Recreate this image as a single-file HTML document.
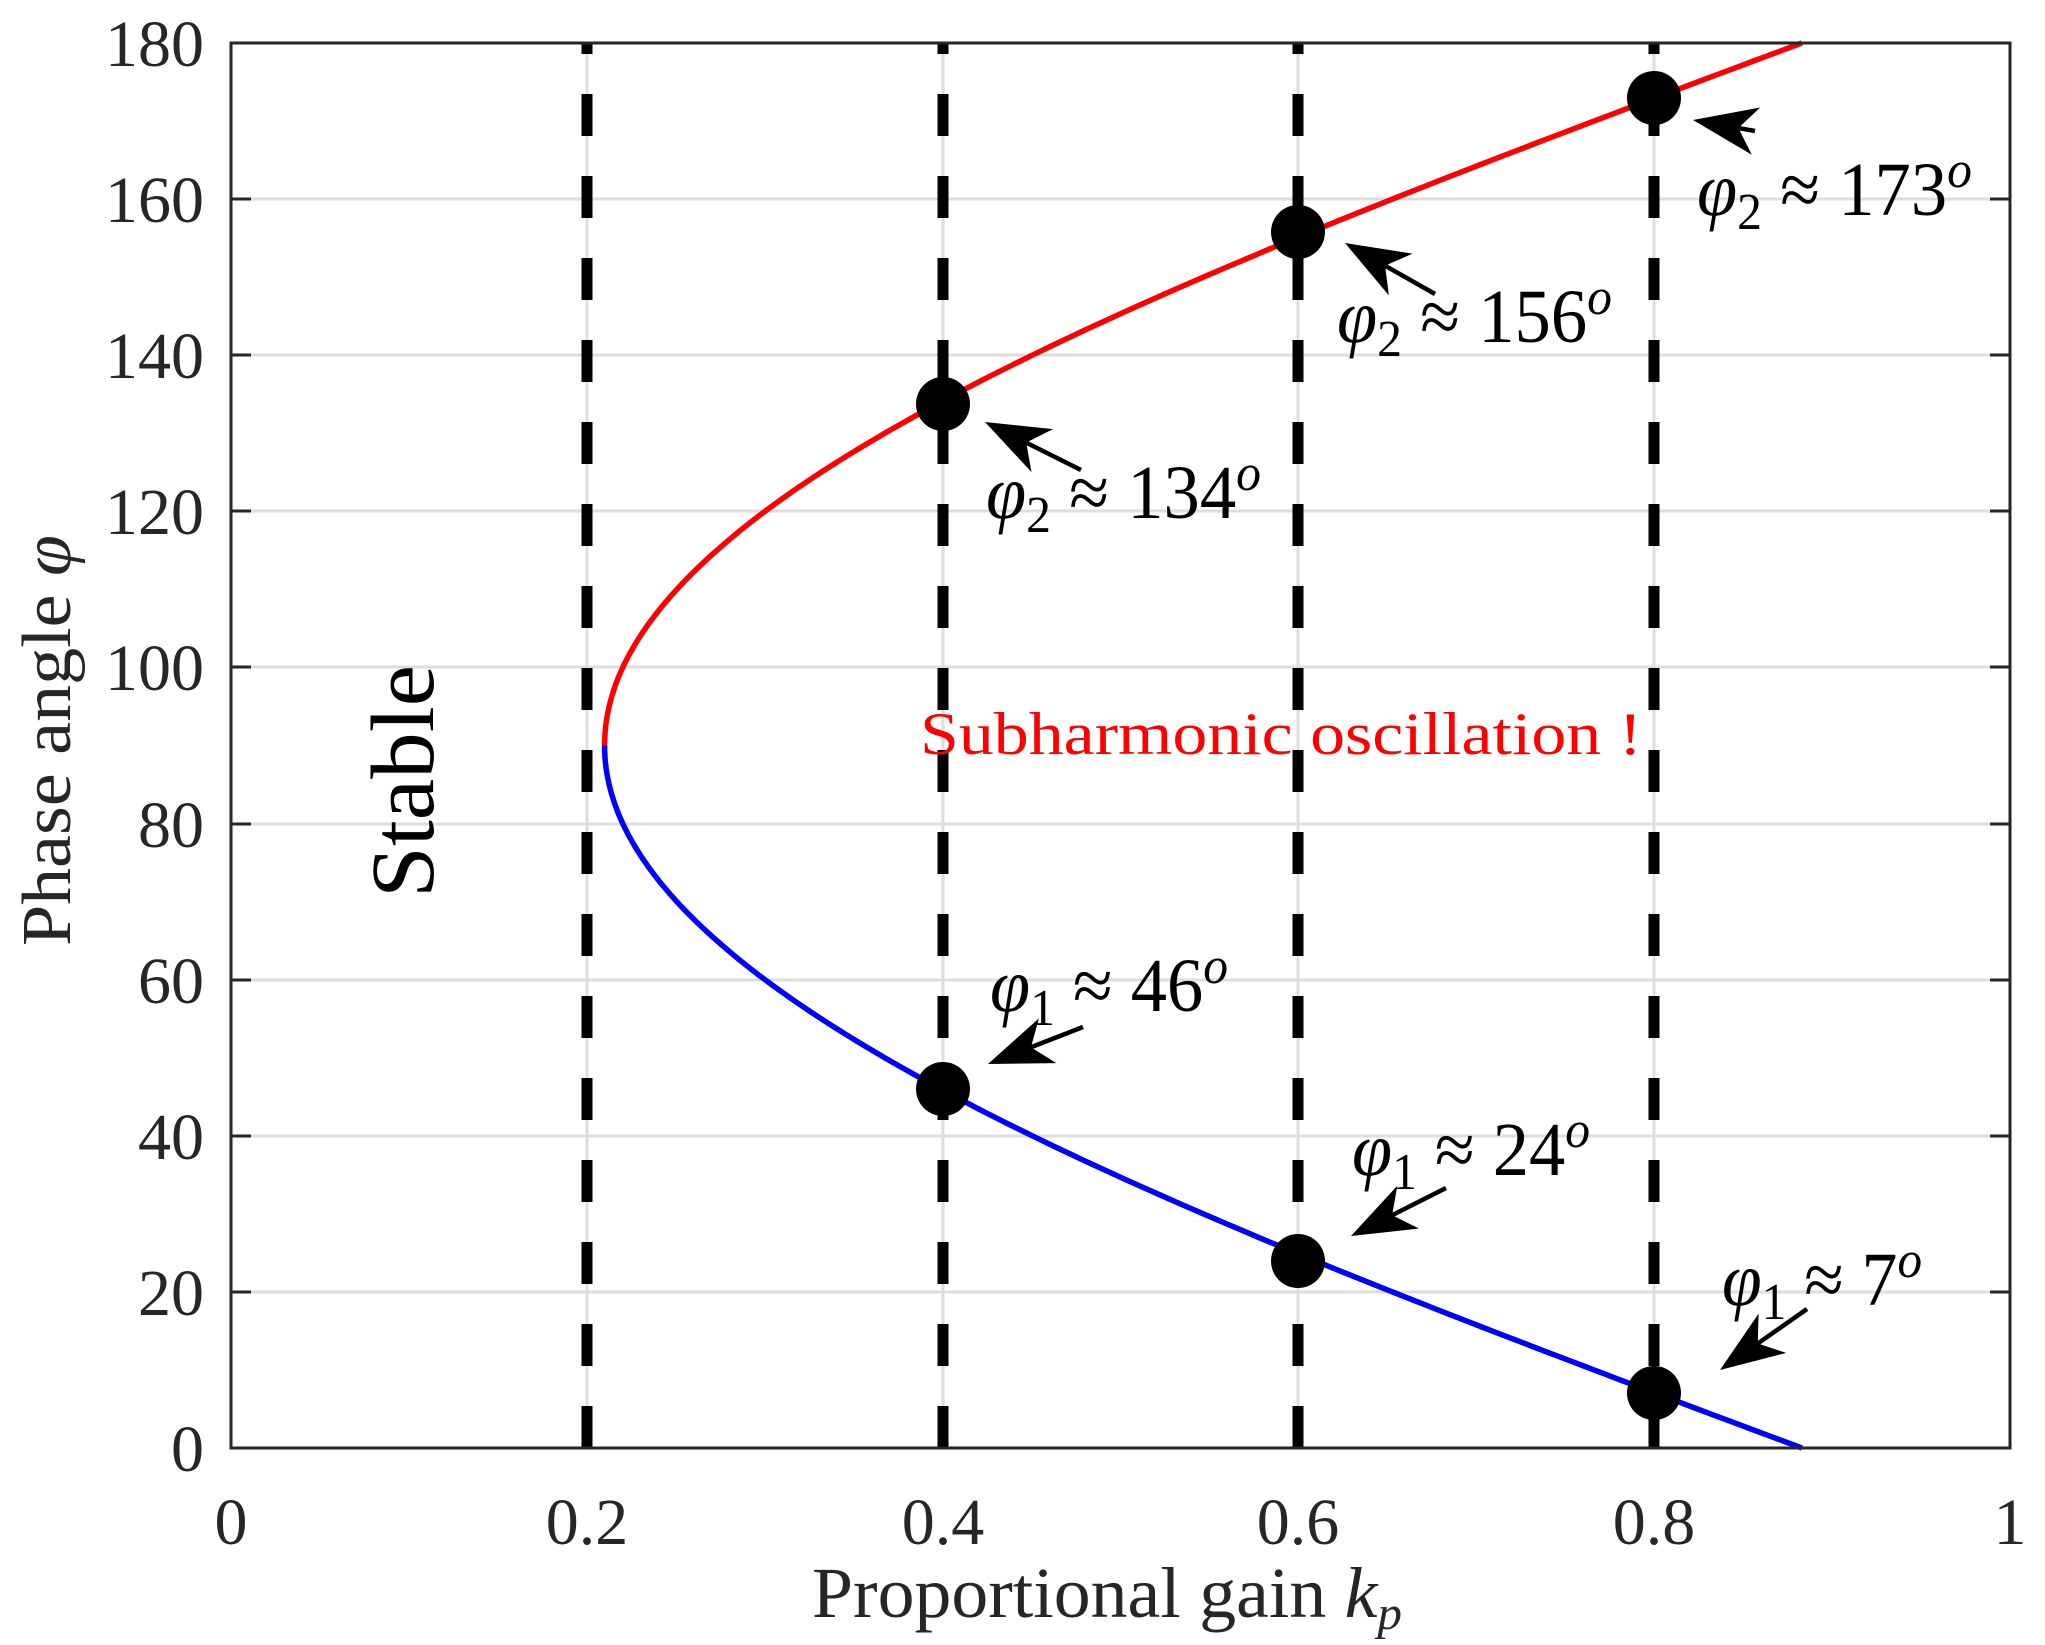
<!DOCTYPE html>
<html><head><meta charset="utf-8"><style>
html,body{margin:0;padding:0;background:#fff;}
svg{display:block;}
text{font-family:"Liberation Serif","DejaVu Serif",serif;}
</style></head><body>
<svg id="s" width="2045" height="1645" viewBox="0 0 2045 1645" xmlns="http://www.w3.org/2000/svg">
<rect width="2045" height="1645" fill="#fff"/>
<g stroke="#dedede" stroke-width="3">
<line x1="231" y1="199" x2="2010" y2="199"/><line x1="231" y1="355" x2="2010" y2="355"/>
<line x1="231" y1="511" x2="2010" y2="511"/><line x1="231" y1="667" x2="2010" y2="667"/>
<line x1="231" y1="824" x2="2010" y2="824"/><line x1="231" y1="980" x2="2010" y2="980"/>
<line x1="231" y1="1136" x2="2010" y2="1136"/><line x1="231" y1="1292" x2="2010" y2="1292"/>
<line x1="587" y1="43" x2="587" y2="1448"/><line x1="943" y1="43" x2="943" y2="1448"/>
<line x1="1298" y1="43" x2="1298" y2="1448"/><line x1="1654" y1="43" x2="1654" y2="1448"/>
</g>
<g stroke="#000" stroke-width="11" stroke-dasharray="42 40">
<line x1="587" y1="1448" x2="587" y2="43"/><line x1="943" y1="1448" x2="943" y2="43"/>
<line x1="1298" y1="1448" x2="1298" y2="43"/><line x1="1654" y1="1448" x2="1654" y2="43"/>
</g>
<path id="blue" fill="none" stroke="#0000ff" stroke-width="5.5"/>
<path id="red" fill="none" stroke="#ff0000" stroke-width="5.5"/>
<g fill="#000">
<circle cx="943" cy="404" r="27"/><circle cx="1298" cy="232" r="27"/><circle cx="1654" cy="98" r="27"/>
<circle cx="943" cy="1089" r="27"/><circle cx="1298" cy="1261" r="27"/><circle cx="1654" cy="1393" r="27"/>
</g>
<g stroke="#262626" stroke-width="3" fill="none">
<rect x="231" y="43" width="1779" height="1405"/>
</g>
<g stroke="#262626" stroke-width="3">
<line x1="231" y1="199" x2="251" y2="199"/><line x1="231" y1="355" x2="251" y2="355"/>
<line x1="231" y1="511" x2="251" y2="511"/><line x1="231" y1="667" x2="251" y2="667"/>
<line x1="231" y1="824" x2="251" y2="824"/><line x1="231" y1="980" x2="251" y2="980"/>
<line x1="231" y1="1136" x2="251" y2="1136"/><line x1="231" y1="1292" x2="251" y2="1292"/>
<line x1="2010" y1="199" x2="1990" y2="199"/><line x1="2010" y1="355" x2="1990" y2="355"/>
<line x1="2010" y1="511" x2="1990" y2="511"/><line x1="2010" y1="667" x2="1990" y2="667"/>
<line x1="2010" y1="824" x2="1990" y2="824"/><line x1="2010" y1="980" x2="1990" y2="980"/>
<line x1="2010" y1="1136" x2="1990" y2="1136"/><line x1="2010" y1="1292" x2="1990" y2="1292"/>
</g>
<g fill="#262626" font-size="66" text-anchor="end">
<text x="204" y="66">180</text><text x="204" y="222">160</text><text x="204" y="378">140</text>
<text x="204" y="534">120</text><text x="204" y="690">100</text><text x="204" y="847">80</text>
<text x="204" y="1003">60</text><text x="204" y="1159">40</text><text x="204" y="1315">20</text>
<text x="204" y="1471">0</text>
</g>
<g fill="#262626" font-size="66" text-anchor="middle">
<text x="231" y="1544">0</text><text x="587" y="1544">0.2</text><text x="943" y="1544">0.4</text>
<text x="1298" y="1544">0.6</text><text x="1654" y="1544">0.8</text><text x="2010" y="1544">1</text>
</g>
<text x="812" y="1617" font-size="72" fill="#262626" textLength="590" lengthAdjust="spacingAndGlyphs">Proportional gain <tspan font-style="italic">k</tspan><tspan font-style="italic" font-size="48" dy="12">p</tspan></text>
<text transform="translate(70,946) rotate(-90)" font-size="70" fill="#262626" textLength="411" lengthAdjust="spacingAndGlyphs">Phase angle <tspan font-style="italic">φ</tspan></text>
<text transform="translate(433,898) rotate(-90)" font-size="90" fill="#000" textLength="233" lengthAdjust="spacingAndGlyphs">Stable</text>
<text x="920" y="754" font-size="60" fill="#ff0000" textLength="722" lengthAdjust="spacingAndGlyphs">Subharmonic oscillation !</text>
<g fill="#000" font-size="76">
<text x="1697" y="215" textLength="275" lengthAdjust="spacingAndGlyphs"><tspan font-style="italic">φ</tspan><tspan font-size="52" dy="14">2</tspan><tspan dy="-14"> ≈ 173</tspan><tspan font-size="52" font-style="italic" dy="-28">o</tspan></text>
<text x="1337" y="342" textLength="275" lengthAdjust="spacingAndGlyphs"><tspan font-style="italic">φ</tspan><tspan font-size="52" dy="14">2</tspan><tspan dy="-14"> ≈ 156</tspan><tspan font-size="52" font-style="italic" dy="-28">o</tspan></text>
<text x="986" y="518" textLength="275" lengthAdjust="spacingAndGlyphs"><tspan font-style="italic">φ</tspan><tspan font-size="52" dy="14">2</tspan><tspan dy="-14"> ≈ 134</tspan><tspan font-size="52" font-style="italic" dy="-28">o</tspan></text>
<text x="990" y="1011" textLength="238" lengthAdjust="spacingAndGlyphs"><tspan font-style="italic">φ</tspan><tspan font-size="52" dy="14">1</tspan><tspan dy="-14"> ≈ 46</tspan><tspan font-size="52" font-style="italic" dy="-28">o</tspan></text>
<text x="1352" y="1175" textLength="238" lengthAdjust="spacingAndGlyphs"><tspan font-style="italic">φ</tspan><tspan font-size="52" dy="14">1</tspan><tspan dy="-14"> ≈ 24</tspan><tspan font-size="52" font-style="italic" dy="-28">o</tspan></text>
<text x="1722" y="1305" textLength="200" lengthAdjust="spacingAndGlyphs"><tspan font-style="italic">φ</tspan><tspan font-size="52" dy="14">1</tspan><tspan dy="-14"> ≈ 7</tspan><tspan font-size="52" font-style="italic" dy="-28">o</tspan></text>
</g>
<g id="arrows"></g>
<script>
(function(){
var L=231,R=2010,T=43,B=1448;
function X(k){return L+k*(R-L);}function Y(p){return B-p/180*(B-T);}
var b="",r="";
for(var p=0;p<=90;p+=0.5){var k=0.883-0.673*Math.sin(p*Math.PI/180);b+=(p?"L":"M")+X(k).toFixed(1)+" "+Y(p).toFixed(1);}
for(var p=90;p<=180;p+=0.5){var k=0.883-0.673*Math.sin(p*Math.PI/180);r+=(p>90?"L":"M")+X(k).toFixed(1)+" "+Y(p).toFixed(1);}
document.getElementById("blue").setAttribute("d",b);
document.getElementById("red").setAttribute("d",r);
var A=[[1755,131,1693,120],[1435,294,1345,243],[1081,470,985,422],[1083,1027,988,1064],[1446,1188,1351,1236],[1807,1309,1720,1370]];
var g=document.getElementById("arrows"),ns="http://www.w3.org/2000/svg";
A.forEach(function(a){
 var dx=a[2]-a[0],dy=a[3]-a[1],l=Math.sqrt(dx*dx+dy*dy),ux=dx/l,uy=dy/l,px=-uy,py=ux;
 var hl=64,hw=24,bx=a[2]-ux*hl,by=a[3]-uy*hl,ix=a[2]-ux*hl*0.72,iy=a[3]-uy*hl*0.72;
 var ln=document.createElementNS(ns,"line");
 ln.setAttribute("x1",a[0]);ln.setAttribute("y1",a[1]);ln.setAttribute("x2",ix);ln.setAttribute("y2",iy);
 ln.setAttribute("stroke","#000");ln.setAttribute("stroke-width","4.5");g.appendChild(ln);
 var pg=document.createElementNS(ns,"polygon");
 pg.setAttribute("points",a[2]+","+a[3]+" "+(bx+px*hw)+","+(by+py*hw)+" "+ix+","+iy+" "+(bx-px*hw)+","+(by-py*hw));
 pg.setAttribute("fill","#000");g.appendChild(pg);
});
})();
</script>
</svg>
</body></html>
